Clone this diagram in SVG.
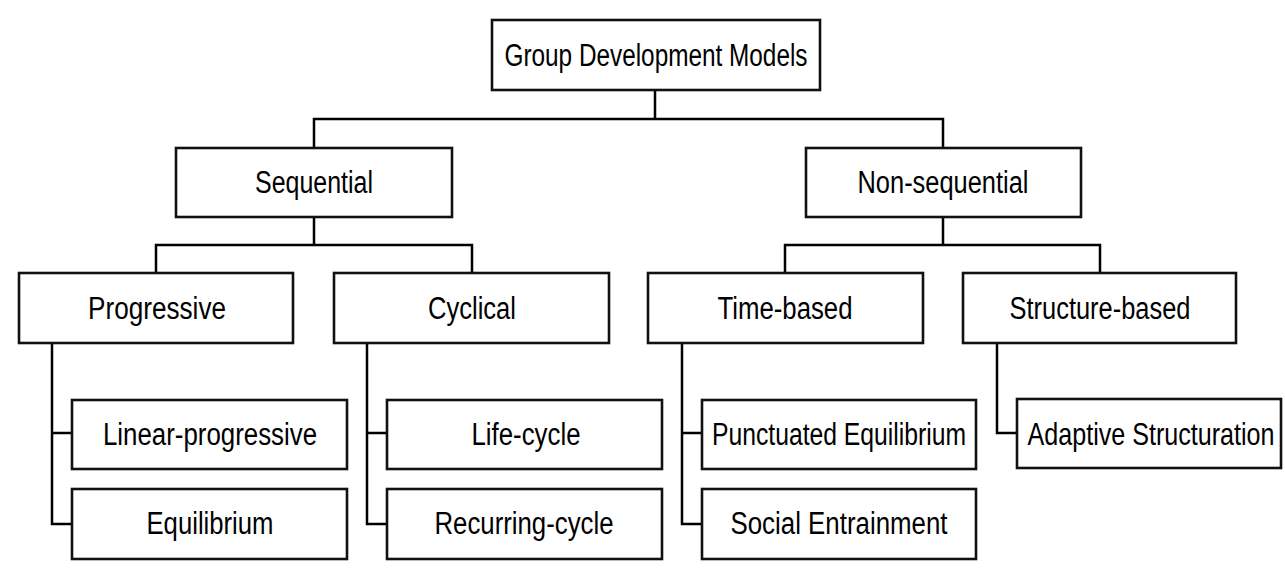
<svg xmlns="http://www.w3.org/2000/svg" width="1285" height="572" viewBox="0 0 1285 572">
<style>
.box{fill:#fff;stroke:#111;stroke-width:2.6}
.lbl{font-family:"Liberation Sans",Arial,sans-serif;font-size:31px;fill:#000;text-anchor:middle}
.conn{fill:none;stroke:#000;stroke-width:2.5;stroke-linecap:square}
</style>
<rect width="1285" height="572" fill="#fff"/>
<g id="connectors">
<path class="conn" d="M655 90V119M314 119H943M314 119V148M943 119V148"/>
<path class="conn" d="M314 217V245M156 245H472M156 245V273M472 245V273"/>
<path class="conn" d="M943 217V245M785 245H1100M785 245V273M1100 245V273"/>
<path class="conn" d="M52 343V524M52 433H72M52 524H72"/>
<path class="conn" d="M367 343V524M367 433H387M367 524H387"/>
<path class="conn" d="M682 343V524M682 433H702M682 524H702"/>
<path class="conn" d="M997 343V433H1017"/>
</g>
<g id="n-root"><rect class="box" x="492" y="20" width="328" height="70"/><text class="lbl" x="656" y="66" font-size="32" textLength="303" lengthAdjust="spacingAndGlyphs">Group Development Models</text></g>
<g id="n-sequential"><rect class="box" x="176" y="148" width="276" height="69"/><text class="lbl" x="314" y="193" textLength="118" lengthAdjust="spacingAndGlyphs">Sequential</text></g>
<g id="n-nonsequential"><rect class="box" x="806" y="148" width="275" height="69"/><text class="lbl" x="943" y="193" textLength="171" lengthAdjust="spacingAndGlyphs">Non-sequential</text></g>
<g id="n-progressive"><rect class="box" x="19" y="273" width="274" height="70"/><text class="lbl" x="157" y="319" textLength="138" lengthAdjust="spacingAndGlyphs">Progressive</text></g>
<g id="n-cyclical"><rect class="box" x="334" y="273" width="275" height="70"/><text class="lbl" x="472" y="319" textLength="88" lengthAdjust="spacingAndGlyphs">Cyclical</text></g>
<g id="n-timebased"><rect class="box" x="648" y="273" width="275" height="70"/><text class="lbl" x="785" y="319" textLength="135" lengthAdjust="spacingAndGlyphs">Time-based</text></g>
<g id="n-structurebased"><rect class="box" x="963" y="273" width="273" height="70"/><text class="lbl" x="1100" y="319" textLength="181" lengthAdjust="spacingAndGlyphs">Structure-based</text></g>
<g id="n-linear"><rect class="box" x="72" y="400" width="275" height="69"/><text class="lbl" x="210" y="445" textLength="214" lengthAdjust="spacingAndGlyphs">Linear-progressive</text></g>
<g id="n-equilibrium"><rect class="box" x="72" y="489" width="275" height="70"/><text class="lbl" x="210" y="534" textLength="127" lengthAdjust="spacingAndGlyphs">Equilibrium</text></g>
<g id="n-lifecycle"><rect class="box" x="387" y="400" width="275" height="69"/><text class="lbl" x="526" y="445" textLength="109" lengthAdjust="spacingAndGlyphs">Life-cycle</text></g>
<g id="n-recurring"><rect class="box" x="387" y="489" width="275" height="70"/><text class="lbl" x="524" y="534" textLength="179" lengthAdjust="spacingAndGlyphs">Recurring-cycle</text></g>
<g id="n-punctuated"><rect class="box" x="702" y="400" width="274" height="69"/><text class="lbl" x="839" y="445" textLength="254" lengthAdjust="spacingAndGlyphs">Punctuated Equilibrium</text></g>
<g id="n-social"><rect class="box" x="702" y="489" width="274" height="70"/><text class="lbl" x="839" y="534" textLength="217" lengthAdjust="spacingAndGlyphs">Social Entrainment</text></g>
<g id="n-adaptive"><rect class="box" x="1017" y="399" width="264" height="69"/><text class="lbl" transform="translate(1151 445) scale(0.81 1)" x="0" y="0">Adaptive Structuration</text></g>
</svg>
